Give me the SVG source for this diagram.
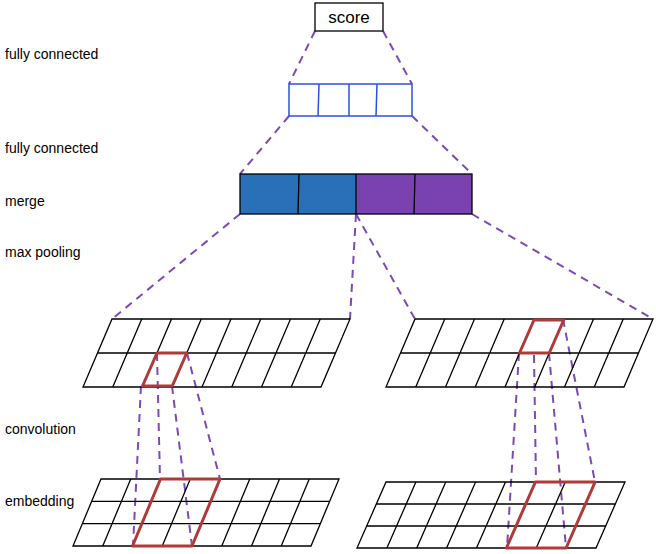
<svg xmlns="http://www.w3.org/2000/svg" width="656" height="554" viewBox="0 0 656 554">
<style>
text{font-family:"Liberation Sans",Arial,sans-serif;font-size:14px;fill:#000}
.g{stroke:#000;stroke-width:1.3;fill:none}
.r{stroke:#b03a3a;stroke-width:3;fill:none;stroke-linejoin:round}
.d{stroke:#7b4bb5;stroke-width:2;stroke-dasharray:8,6;fill:none}
</style>
<rect width="656" height="554" fill="#fff"/>
<g id="labels">
<text x="5" y="59">fully connected</text>
<text x="5" y="153">fully connected</text>
<text x="5" y="206">merge</text>
<text x="5" y="257">max pooling</text>
<text x="5" y="434">convolution</text>
<text x="5" y="506">embedding</text>
</g>
<g id="connectors">
<path class="d" d="M315,31L289,84M383,31L412,84M289,116L240,174M412,116L472,174M240,214L112,319M356,214L350,319M356,214L415,319M472,214L653,319"/>
<path class="d" d="M141,386L133,546M157,353L160,479M172,386L192,546M187,353L220,479"/>
<path class="d" d="M519,353L507,548M534,355L536,482M549,353L566,548M563,319L595,482"/>
</g>
<g id="score"><rect x="315" y="3" width="68" height="28" fill="#fff" stroke="#000" stroke-width="1.3"/><text x="349" y="23" text-anchor="middle" style="font-size:17px">score</text></g>
<g id="fc"><rect x="289" y="84" width="123" height="32" fill="#fff" stroke="#2a50e0" stroke-width="1.5"/><path d="M319,84L318,116M349,84L349,116M377,84L376,116" stroke="#2a50e0" stroke-width="1.5"/></g>
<g id="merge"><rect x="240" y="174" width="116" height="40" fill="#2a70b8"/><rect x="356" y="174" width="116" height="40" fill="#7a42b0"/><rect x="240" y="174" width="232" height="40" fill="none" stroke="#000" stroke-width="1.3"/><path d="M299,174L298,214M356,174L356,214M415,174L414,214" stroke="#000" stroke-width="1.3"/></g>
<g id="pool-left">
<polygon class="g" points="112,319 350,319 321,387 83,387"/>
<path class="g" d="M97.5,353H335.5M141.75,319L112.75,387M171.5,319L142.5,387M201.25,319L172.25,387M231,319L202,387M260.75,319L231.75,387M290.5,319L261.5,387M320.25,319L291.25,387"/>
<polygon class="r" points="157,353 186.75,353 172.25,386 142.5,386"/>
</g>
<g id="pool-right">
<polygon class="g" points="415,319 653,319 624,387 386,387"/>
<path class="g" d="M400.5,353H638.5M444.75,319L415.75,387M474.5,319L445.5,387M504.25,319L475.25,387M534,319L505,387M563.75,319L534.75,387M593.5,319L564.5,387M623.25,319L594.25,387"/>
<polygon class="r" points="534,320 563.75,320 549.25,353 519.5,353"/>
</g>
<g id="embed-left">
<polygon class="g" points="101,479 339,479 311,546 73,546"/>
<path class="g" d="M91.7,501.3H329.7M82.3,523.7H320.3M130.75,479L102.75,546M160.5,479L132.5,546M190.25,479L162.25,546M220,479L192,546M249.75,479L221.75,546M279.5,479L251.5,546M309.25,479L281.25,546"/>
<polygon class="r" points="160.5,479 220,479 192,546 132.5,546"/>
</g>
<g id="embed-right">
<polygon class="g" points="386,482 625,482 596,548 357,548"/>
<path class="g" d="M376.3,504H615.3M366.7,526H605.7M415.9,482L386.9,548M445.75,482L416.75,548M475.6,482L446.6,548M505.5,482L476.5,548M535.4,482L506.4,548M565.25,482L536.25,548M595.1,482L566.1,548"/>
<polygon class="r" points="535.4,482 595.1,482 566.1,548 506.4,548"/>
</g>
</svg>
